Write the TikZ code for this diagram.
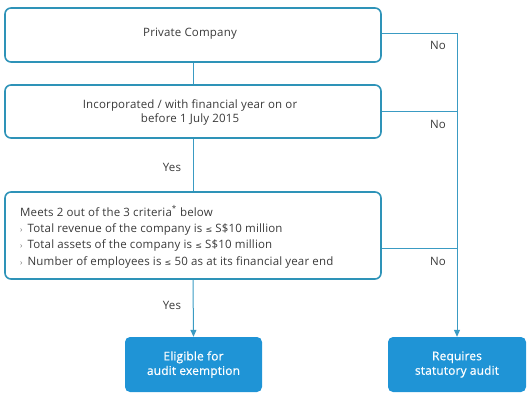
\documentclass[tikz,border=0pt]{standalone}
\usepackage{fontspec}
\setmainfont{Open Sans}[LetterSpace=1.5]
\newfontfamily\symfont{DejaVu Sans}
\newfontfamily\medfont{Open Sans}[FakeBold=0.5,LetterSpace=1]
\usetikzlibrary{arrows.meta}
\definecolor{boxline}{HTML}{2E93B8}
\definecolor{conn}{HTML}{3A9BC3}
\definecolor{fillblue}{HTML}{1F94D6}
\definecolor{txt}{HTML}{3A3A3A}
\newcommand{\myle}{{\symfont\footnotesize ≤}}
\tikzset{
  qbox/.style={draw=boxline, line width=1.6pt, rounded corners=6pt, fill=white, inner sep=0pt},
  endbox/.style={fill=fillblue, rounded corners=5pt, text=white, align=center, inner sep=0pt, minimum width=137pt, minimum height=55pt, font=\medfont\fontsize{12}{14.5}\selectfont},
  conn/.style={draw=conn, line width=1pt},
  arr/.style={conn, -{Triangle[length=7pt,width=6pt]}},
  lbl/.style={text=txt, font=\fontsize{11.5}{14}\selectfont, inner sep=0pt},
  btxt/.style={text=txt, font=\fontsize{11.5}{14}\selectfont, inner sep=0pt, anchor=base west},
}
\begin{document}
\begin{tikzpicture}[x=1pt,y=-1pt]
\useasboundingbox (0,0) rectangle (530,400);
% boxes
\node[qbox, minimum width=376pt, minimum height=54pt] (b1) at (193,35) {};
\node[lbl] (t1) at (190,34) {Private Company};
\node[qbox, minimum width=376pt, minimum height=53pt] (b2) at (193,111.5) {};
\node[lbl, align=center] (t2) at (190,112) {Incorporated / with financial year on or\\before 1 July 2015};
\node[qbox, minimum width=376pt, minimum height=87pt] (b3) at (193,235.5) {};
\node[btxt] (l1) at (20,216) {Meets 2 out of the 3 criteria\textsuperscript{*} below};
\node[btxt] (l2) at (20,232.5) {\textcolor{txt!70}{\footnotesize›}\hspace{5pt}Total revenue of the company is \myle{} S\$10 million};
\node[btxt] (l3) at (20,248.5) {\textcolor{txt!70}{\footnotesize›}\hspace{5pt}Total assets of the company is \myle{} S\$10 million};
\node[btxt] (l4) at (20,265.5) {\textcolor{txt!70}{\footnotesize›}\hspace{5pt}Number of employees is \myle{} 50 as at its financial year end};
\node[endbox] (e) at (193.5,364.5) {Eligible for\\audit exemption};
\node[endbox, minimum width=138pt] (r) at (457,364.5) {Requires\\statutory audit};
% right connector line
\coordinate (r1) at (457,33);
\coordinate (r2) at (457,111);
\coordinate (r3) at (457,248);
\draw[conn] (b1.south) -- (b2.north);
\draw[conn] (b2.south) -- (b3.north);
\draw[arr] (b3.south) -- (e.north);
\draw[conn] (r1 -| b1.east) -- (r1);
\draw[conn] (r2 -| b2.east) -- (r2);
\draw[conn] (r3 -| b3.east) -- (r3);
\draw[arr] (r1) -- (r.north);
% labels
\node[lbl] (n1) at (438,45) {No};
\node[lbl] (n2) at (438,124) {No};
\node[lbl] (n3) at (438,261) {No};
\node[lbl] (y1) at (172,167) {Yes};
\node[lbl] (y2) at (172,305) {Yes};
\end{tikzpicture}
\end{document}
